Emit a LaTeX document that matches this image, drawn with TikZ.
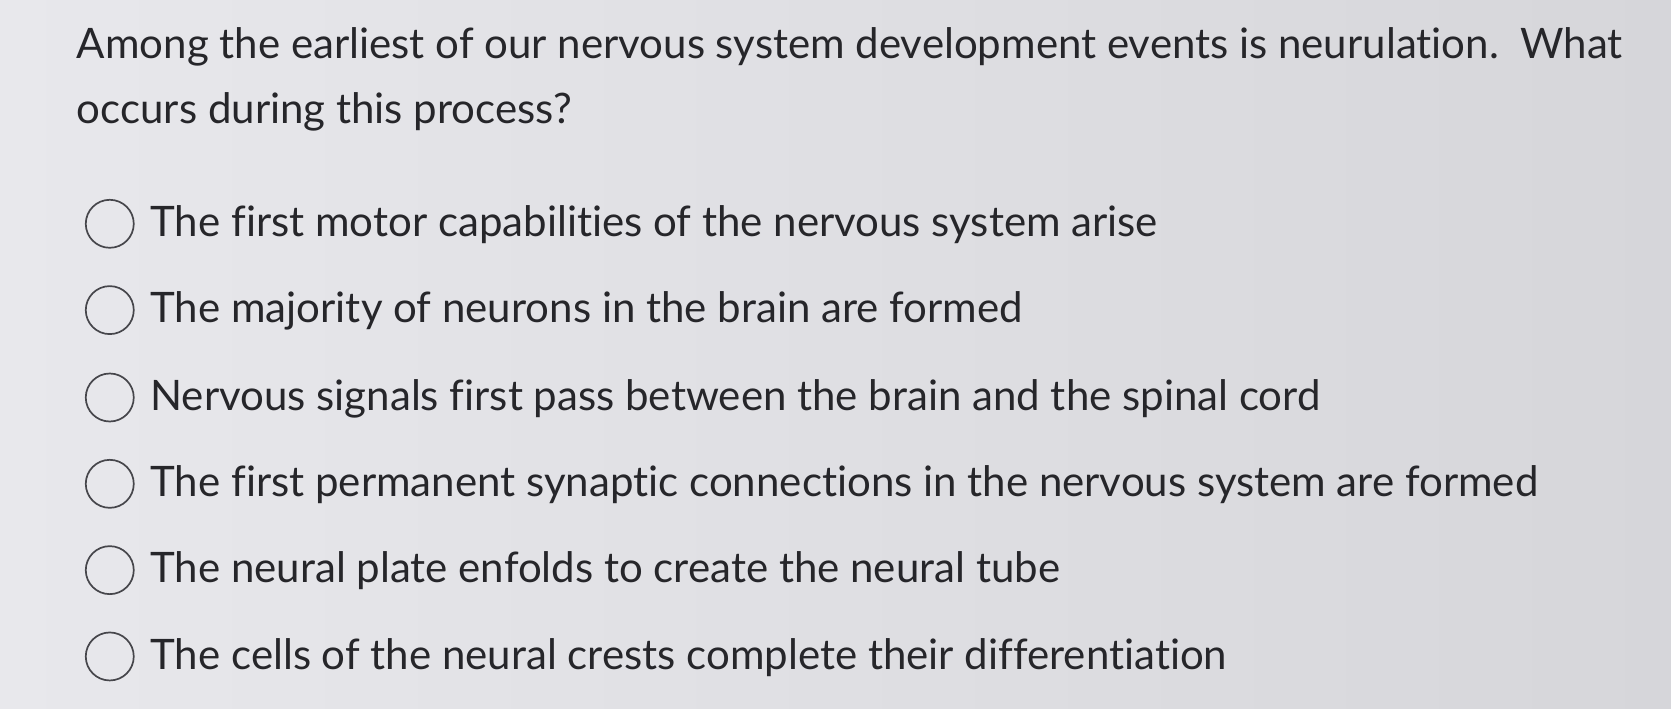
\documentclass[tikz,border=0pt]{standalone}
\usepackage{fontspec}
\setmainfont[Ligatures=NoCommon]{Lato}
\definecolor{txt}{RGB}{38,38,42}
\definecolor{bgl}{RGB}{232,232,236}
\definecolor{bgr}{RGB}{214,214,218}
\definecolor{circ}{RGB}{70,70,75}
\begin{document}
\begin{tikzpicture}[x=1.0657pt,y=-1.0657pt,
  q/.style={anchor=base west,text=txt,inner sep=0pt,font=\fontsize{42}{46}\selectfont},
  opt/.style={draw=circ,line width=1.7pt,circle,minimum size=48pt,inner sep=0pt}]
\shade[left color=bgl,right color=bgr] (0,0) rectangle (1568,665.3);
\useasboundingbox (0,0) rectangle (1568,665.3);
\node[q] (l1) at (72,55) {Among the earliest of our nervous system development events is neurulation.\ \ What};
\node[q] (l2) at (72,116) {occurs during this process?};
\foreach \i/\y/\t in {1/222/The first motor capabilities of the nervous system arise,
 2/303/The majority of neurons in the brain are formed,
 3/385/Nervous signals first pass between the brain and the spinal cord,
 4/466/The first permanent synaptic connections in the nervous system are formed,
 5/547/The neural plate enfolds to create the neural tube,
 6/628/The cells of the neural crests complete their differentiation}{
  \node[opt] (c\i) at (103,\y-12) {};
  \node[q] (o\i) at (141,\y) {\t};
}
\end{tikzpicture}
\end{document}
